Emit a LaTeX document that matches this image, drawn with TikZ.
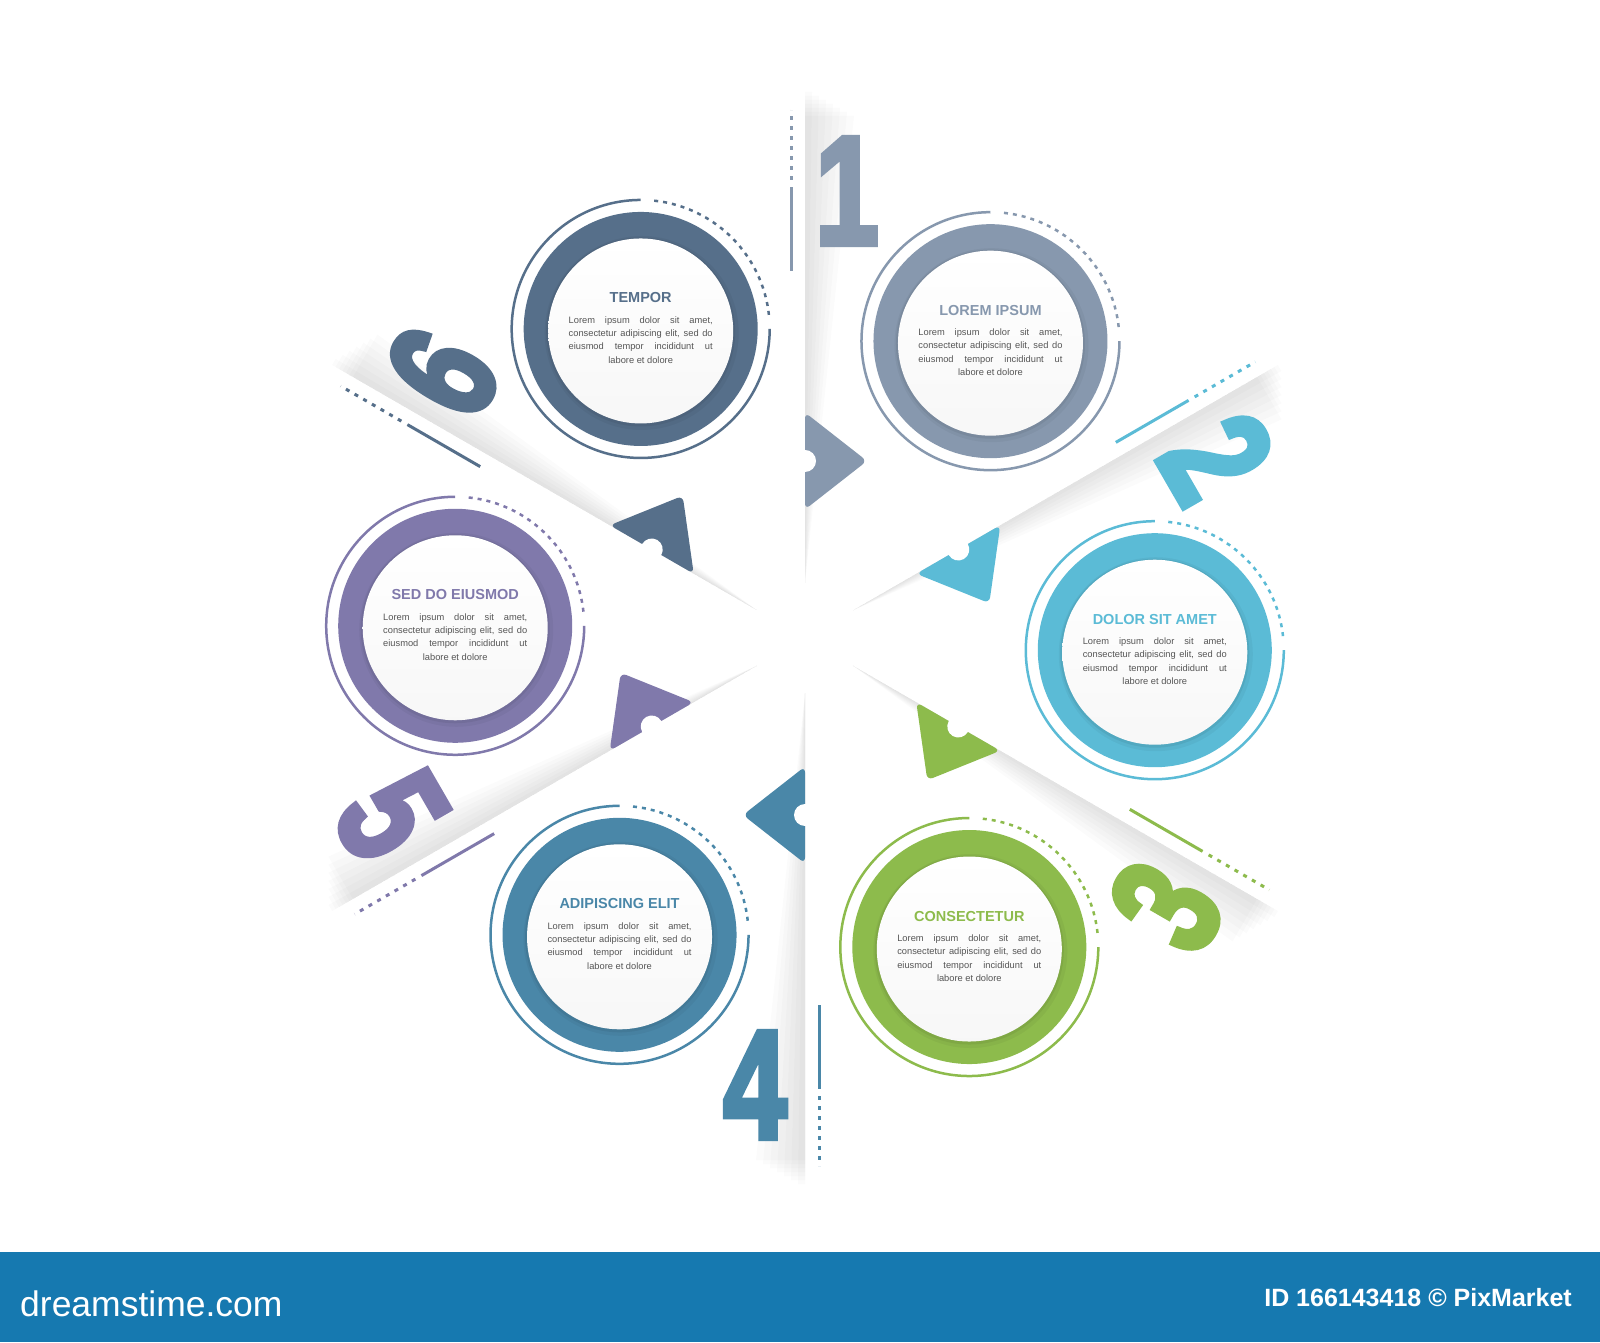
\documentclass[tikz,border=0pt]{standalone}
\usepackage{fontspec}
\setmainfont{Liberation Sans}
\newfontfamily\numfont{Liberation Sans}[FakeBold=4]
\definecolor{ca}{HTML}{8798AE}
\definecolor{cb}{HTML}{5BBBD6}
\definecolor{cc}{HTML}{8DBB4C}
\definecolor{cd}{HTML}{4A87A8}
\definecolor{ce}{HTML}{8079AB}
\definecolor{cf}{HTML}{566F8A}
\definecolor{barblue}{HTML}{1679B0}
\definecolor{bodygray}{HTML}{555555}
\tikzset{
  guide/.style={line width=3pt},
  guidedash/.style={line width=3pt, dash pattern=on 4pt off 6pt},
  numberstyle/.style={font=\fontsize{154}{154}\selectfont\numfont\bfseries, inner sep=0pt},
  titlestyle/.style={font=\fontsize{14.5}{16}\selectfont\bfseries, inner sep=0pt},
  bodystyle/.style={font=\fontsize{9.3}{13.3}\selectfont, align=center, inner sep=0pt, text=bodygray},
  outerring/.style={line width=2.5pt},
  outerdash/.style={line width=2.5pt, dash pattern=on 4pt off 5pt}
}
\newcommand\bodytext{%
\makebox[144pt][s]{Lorem ipsum dolor sit amet,}\\
\makebox[144pt][s]{consectetur adipiscing elit, sed do}\\
\makebox[144pt][s]{eiusmod tempor incididunt ut}\\
labore et dolore}
\begin{document}
\begin{tikzpicture}[x=1pt,y=1pt]
\useasboundingbox (0,0) rectangle (1600,1342);
\fill[white] (0,0) rectangle (1600,1342);
\coordinate (C) at (805,704);

% soft shadows along sector edges
\foreach \ang in {90,30,-30,-90,-150,150}{
  \begin{scope}[shift={(C)}, rotate=\ang]
    \foreach \i in {1,...,7}{
      \fill[black, opacity=0.014] (55,0) -- ({550-4*\i},0) -- ({550-4*\i},{-7*\i}) -- cycle;
    }
  \end{scope}
}

% triangles, guide lines and numbers
\foreach \ang/\col/\nn/\rot/\off in {90/ca/1/0/42, 30/cb/2/-60/50, -30/cc/3/60/52, -90/cd/4/0/50, -150/ce/5/-60/53, 150/cf/6/60/49}{
  \begin{scope}[shift={(C)}, rotate=\ang]
    \fill[fill=\col, rounded corners=6pt] (128.5,0) -- (177,-62) -- (225.5,0) -- cycle;
    \fill[white] (177,0) circle (11);
    \draw[guide, draw=\col] (367,14) -- (451,14);
    \draw[guidedash, draw=\col] (458,14) -- (528,14);
    \node[numberstyle, text=\col, rotate=\rot] (n\nn) at (447,-\off) {\scalebox{0.74}[1]{\nn}};
  \end{scope}
}

% circles
\foreach \a/\col/\ttl/\k in {58/ca/LOREM IPSUM/1, -2/cb/DOLOR SIT AMET/2, -62/cc/CONSECTETUR/3, -122/cd/ADIPISCING ELIT/4, 178/ce/SED DO EIUSMOD/5, 118/cf/TEMPOR/6}{
  \begin{scope}[shift={(C)}, shift={(\a:350)}]
    \draw[outerring, draw=\col] (90:129) arc[start angle=90, end angle=360, radius=129];
    \draw[outerdash, draw=\col] (84:129) arc[start angle=84, end angle=6, radius=129];
    \fill[fill=\col] (0,0) circle (117);
    \fill[black, opacity=0.04] (1,-4) circle (97);
    \fill[black, opacity=0.06] (0,-3) circle (94.5);
    \shade[top color=white, bottom color=black!3] (0,-2) circle (92.5);
    \node[titlestyle, text=\col] (t\k) at (0,31) {\ttl};
    \node[bodystyle] (b\k) at (0,-11) {\bodytext};
  \end{scope}
}

% bottom bar
\fill[barblue] (0,0) rectangle (1600,90);
\node[anchor=west, text=white, inner sep=0pt, font=\fontsize{35.5}{36}\selectfont] (logo) at (20,38) {dreamstime.com};
\node[anchor=east, text=white, inner sep=0pt, font=\fontsize{25}{25}\selectfont\bfseries] (imgid) at (1572,44) {ID 166143418 © PixMarket};
\end{tikzpicture}
\end{document}
